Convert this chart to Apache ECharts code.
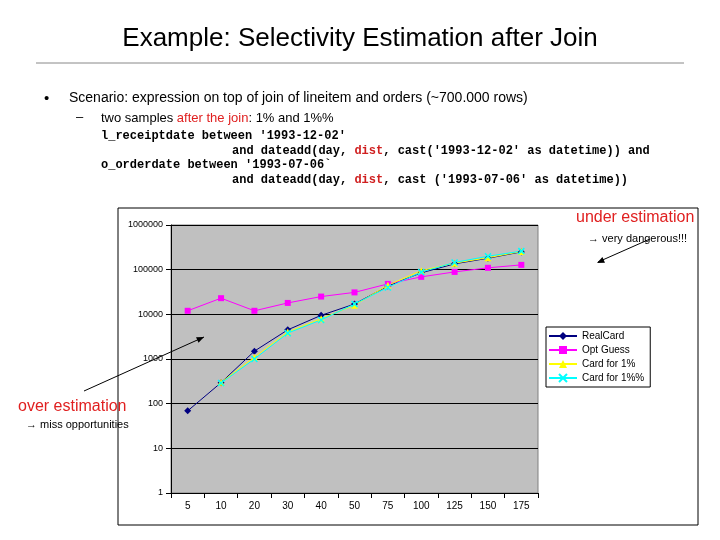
<!DOCTYPE html>
<html>
<head>
<meta charset="utf-8">
<script src="https://cdn.jsdelivr.net/npm/echarts@6/dist/echarts.min.js"></script>
<style>html,body{margin:0;padding:0;background:#fff}#main{width:720px;height:540px}</style>
</head>
<body>
<div id="main"></div>
<script>
// x categories (dist in days)
var dists = ['5', '10', '20', '30', '40', '50', '75', '100', '125', '150', '175'];
var realCard = [69, 295, 1500, 4500, 9500, 17000, 43000, 85000, 135000, 180000, 250000];
var optGuess = [12000, 23000, 12000, 18000, 25000, 31000, 48000, 69000, 89000, 110000, 128000];
var card1 = [null, 300, 1100, 4000, 8000, 16000, 45000, 95000, 140000, 185000, 255000];
var card1pp = [null, 290, 1000, 3800, 7500, 17000, 40000, 88000, 145000, 200000, 260000];

var mono = '"Liberation Mono", "DejaVu Sans Mono", monospace';
var sans = '"Liberation Sans", Arial, sans-serif';

function arrowLine(x1, y1, x2, y2) {
    return {
        type: 'line', z: 100,
        shape: {x1: x1, y1: y1, x2: x2, y2: y2},
        style: {stroke: '#000', lineWidth: 1}
    };
}
function arrowHead(x1, y1, x2, y2) {
    var a = Math.atan2(y2 - y1, x2 - x1), L = 8, w = 0.4;
    return {
        type: 'polygon', z: 100,
        shape: {points: [[x2, y2],
            [x2 - L * Math.cos(a - w), y2 - L * Math.sin(a - w)],
            [x2 - L * Math.cos(a + w), y2 - L * Math.sin(a + w)]]},
        style: {fill: '#000'}
    };
}

var chart = echarts.init(document.getElementById('main'));
var option = {
    animation: false,
    backgroundColor: '#fff',
    graphic: [
        {type: 'text', left: 'center', top: 26, style: {text: 'Example: Selectivity Estimation after Join', font: '26px ' + sans, fill: '#000'}},
        {type: 'line', shape: {x1: 36, y1: 63, x2: 684, y2: 63}, style: {stroke: '#888', lineWidth: 1}},
        {type: 'text', left: 44, top: 91, style: {text: '•', font: '15px ' + sans, fill: '#000'}},
        {type: 'text', left: 69, top: 91, style: {text: 'Scenario: expression on top of join of lineitem and orders (~700.000 rows)', font: '14px ' + sans, fill: '#000'}},
        {type: 'text', left: 76, top: 111, style: {text: '–', font: '13px ' + sans, fill: '#000'}},
        {type: 'text', left: 101, top: 112, style: {
            text: '{a|two samples }{r|after the join}{a|: 1% and 1%%}',
            rich: {a: {font: '13px ' + sans, fill: '#000'}, r: {font: '13px ' + sans, fill: '#e02020'}}
        }},
        {type: 'text', left: 101, top: 130, style: {text: "l_receiptdate between '1993-12-02'", font: 'bold 12px ' + mono, fill: '#000'}},
        {type: 'text', left: 232, top: 145, style: {
            text: "{a|and dateadd(day, }{r|dist}{a|, cast('1993-12-02' as datetime)) and}",
            rich: {a: {font: 'bold 12px ' + mono, fill: '#000'}, r: {font: 'bold 12px ' + mono, fill: '#d02020'}}
        }},
        {type: 'text', left: 101, top: 159, style: {text: "o_orderdate between '1993-07-06`", font: 'bold 12px ' + mono, fill: '#000'}},
        {type: 'text', left: 232, top: 174, style: {
            text: "{a|and dateadd(day, }{r|dist}{a|, cast ('1993-07-06' as datetime))}",
            rich: {a: {font: 'bold 12px ' + mono, fill: '#000'}, r: {font: 'bold 12px ' + mono, fill: '#d02020'}}
        }},
        // chart frame
        {type: 'rect', z: -10, shape: {x: 118, y: 208, width: 580, height: 317}, style: {fill: '#fff', stroke: '#000', lineWidth: 1}},
        // annotations
        {type: 'text', left: 576, top: 210, z: 100, style: {text: 'under estimation', font: '16px ' + sans, fill: '#e02020'}},
        {type: 'text', left: 588, top: 233, z: 100, style: {text: '→ very dangerous!!!', font: '11px ' + sans, fill: '#000'}},
        arrowLine(650, 239, 598, 262), arrowHead(650, 239, 597, 263),
        {type: 'text', left: 18, top: 399, z: 100, style: {text: 'over estimation', font: '16px ' + sans, fill: '#e02020'}},
        {type: 'text', left: 26, top: 419, z: 100, style: {text: '→ miss opportunities', font: '11px ' + sans, fill: '#000'}},
        arrowLine(84, 391, 204, 337), arrowHead(84, 391, 204, 337)
    ],
    grid: {left: 171, right: 182, top: 225, bottom: 47, show: true, backgroundColor: '#c0c0c0', borderColor: '#808080', borderWidth: 1},
    legend: {
        orient: 'vertical', left: 546, top: 327, itemGap: 4, itemWidth: 28, itemHeight: 10,
        backgroundColor: '#fff', borderColor: '#000', borderWidth: 1, padding: [4, 6, 4, 2],
        textStyle: {fontFamily: sans, fontSize: 10, color: '#000'},
        data: ['RealCard', 'Opt Guess', 'Card for 1%', 'Card for 1%%']
    },
    xAxis: {
        type: 'category', data: dists, boundaryGap: true,
        axisLine: {lineStyle: {color: '#000'}},
        axisTick: {show: true, lineStyle: {color: '#000'}},
        axisLabel: {color: '#000', fontFamily: sans, fontSize: 10}
    },
    yAxis: {
        type: 'log', logBase: 10, min: 1, max: 1000000,
        axisLine: {show: true, lineStyle: {color: '#000'}},
        axisTick: {show: true, lineStyle: {color: '#000'}},
        axisLabel: {color: '#000', fontFamily: sans, fontSize: 9, formatter: function (v) { return String(Math.round(v)); }},
        splitLine: {lineStyle: {color: '#000', width: 1}}
    },
    series: [
        {name: 'RealCard', type: 'line', data: realCard, symbol: 'diamond', symbolSize: 7,
            itemStyle: {color: '#000080'}, lineStyle: {color: '#000080', width: 1}},
        {name: 'Opt Guess', type: 'line', data: optGuess, symbol: 'rect', symbolSize: 6,
            itemStyle: {color: '#ff00ff'}, lineStyle: {color: '#ff00ff', width: 1}},
        {name: 'Card for 1%', type: 'line', data: card1, symbol: 'triangle', symbolSize: 7,
            itemStyle: {color: '#ffff00'}, lineStyle: {color: '#ffff00', width: 1}},
        {name: 'Card for 1%%', type: 'line', data: card1pp, symbol: 'path://M0,0L10,10M10,0L0,10', symbolSize: 6,
            itemStyle: {color: '#00ffff', borderColor: '#00ffff', borderWidth: 1.5}, lineStyle: {color: '#00ffff', width: 1}}
    ]
};
chart.setOption(option);
</script>
</body>
</html>
